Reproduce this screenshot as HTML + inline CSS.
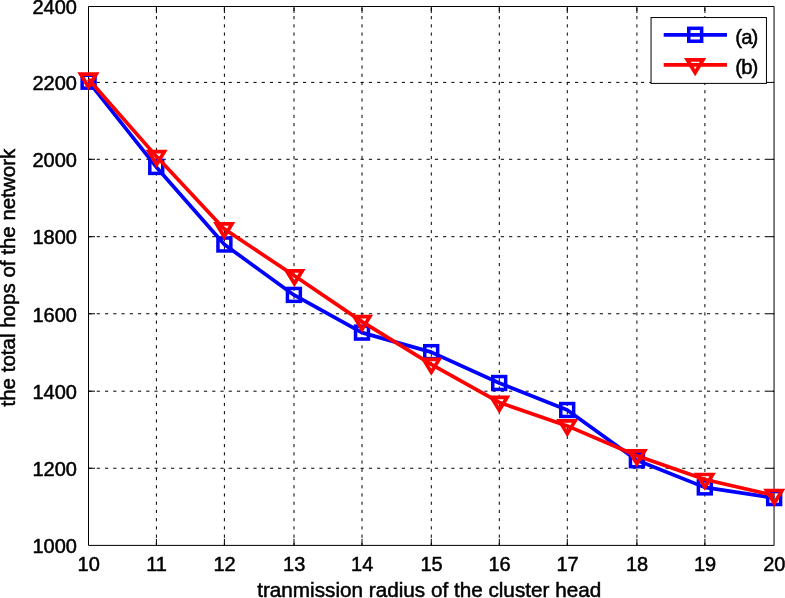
<!DOCTYPE html>
<html lang="en">
<head>
<meta charset="utf-8">
<title>the total hops of the network</title>
<style>
html,body{margin:0;padding:0;background:#fff;overflow:hidden}
svg{display:block}
text{fill:#000}
</style>
</head>
<body>
<svg width="785" height="598" viewBox="0 0 785 598">
<rect width="785" height="598" fill="#fff"/>
<g stroke="#000" stroke-width="1" fill="none" stroke-dasharray="3.2 5.03">
<path d="M156.4 7.82V545.4"/>
<path d="M224.4 7.82V545.4"/>
<path d="M294 7.82V545.4"/>
<path d="M362 7.82V545.4"/>
<path d="M431.3 7.82V545.4"/>
<path d="M499.3 7.82V545.4"/>
<path d="M567.3 7.82V545.4"/>
<path d="M636.9 7.82V545.4"/>
<path d="M704.9 7.82V545.4"/>
</g>
<g stroke="#000" stroke-width="1" fill="none" stroke-dasharray="3.2 5.046">
<path d="M88.5 82.4H774.05"/>
<path d="M88.5 159.3H774.05"/>
<path d="M88.5 236.7H774.05"/>
<path d="M88.5 313.75H774.05"/>
<path d="M88.5 391.2H774.05"/>
<path d="M88.5 468.25H774.05"/>
</g>
<g stroke="#000" stroke-width="1" fill="none">
<path d="M88.5 6.5H774.05V545.4H88.5Z"/>
<path d="M156.4 545.4v-6.5M156.4 6.5v6.5M224.4 545.4v-6.5M224.4 6.5v6.5M294 545.4v-6.5M294 6.5v6.5M362 545.4v-6.5M362 6.5v6.5M431.3 545.4v-6.5M431.3 6.5v6.5M499.3 545.4v-6.5M499.3 6.5v6.5M567.3 545.4v-6.5M567.3 6.5v6.5M636.9 545.4v-6.5M636.9 6.5v6.5M704.9 545.4v-6.5M704.9 6.5v6.5M88.5 82.4h6.5M774.05 82.4h-6.5M88.5 159.3h6.5M774.05 159.3h-6.5M88.5 236.7h6.5M774.05 236.7h-6.5M88.5 313.75h6.5M774.05 313.75h-6.5M88.5 391.2h6.5M774.05 391.2h-6.5M88.5 468.25h6.5M774.05 468.25h-6.5"/>
</g>
<g stroke="#0000ff" fill="none" stroke-linejoin="miter">
<polyline stroke-width="3.7" stroke-linejoin="round" points="88.6,81.7 156.25,166.95 224.4,244.5 293.9,294.9 362,332.6 431.2,352.15 499.2,383 567.2,410 636.9,460.25 704.8,487.4 774.15,498.05"/>
<g stroke-width="3.5"><rect x="82.15" y="75.25" width="12.9" height="12.9"/><rect x="149.8" y="160.5" width="12.9" height="12.9"/><rect x="217.95" y="238.05" width="12.9" height="12.9"/><rect x="287.45" y="288.45" width="12.9" height="12.9"/><rect x="355.55" y="326.15" width="12.9" height="12.9"/><rect x="424.75" y="345.7" width="12.9" height="12.9"/><rect x="492.75" y="376.55" width="12.9" height="12.9"/><rect x="560.75" y="403.55" width="12.9" height="12.9"/><rect x="630.45" y="453.8" width="12.9" height="12.9"/><rect x="698.35" y="480.95" width="12.9" height="12.9"/><rect x="767.7" y="491.6" width="12.9" height="12.9"/></g>
</g>
<g stroke="#ff0000" fill="none" stroke-linejoin="miter">
<polyline stroke-width="3.7" stroke-linejoin="round" points="88.4,79.05 156.6,156.6 224.2,228.9 294.4,275.8 362,321.6 431.3,364.4 499.3,402.45 567.3,425.9 636.9,455.8 704.9,479.5 774.3,495.5"/>
<g stroke-width="3.7"><path d="M80.6 74.05H96.2L88.4 86.85Z"/><path d="M148.8 151.6H164.4L156.6 164.4Z"/><path d="M216.4 223.9H232L224.2 236.7Z"/><path d="M286.6 270.8H302.2L294.4 283.6Z"/><path d="M354.2 316.6H369.8L362 329.4Z"/><path d="M423.5 359.4H439.1L431.3 372.2Z"/><path d="M491.5 397.45H507.1L499.3 410.25Z"/><path d="M559.5 420.9H575.1L567.3 433.7Z"/><path d="M629.1 450.8H644.7L636.9 463.6Z"/><path d="M697.1 474.5H712.7L704.9 487.3Z"/><path d="M766.5 490.5H782.1L774.3 503.3Z"/></g>
</g>
<rect x="651.05" y="17.55" width="115.4" height="65.85" fill="#fff" stroke="#000" stroke-width="1"/>
<g fill="none" stroke="#0000ff"><path stroke-width="3.7" d="M663.7 34.9H727"/><g stroke-width="3.5"><rect x="688.75" y="28.3" width="12.9" height="12.9"/></g></g>
<g fill="none" stroke="#ff0000"><path stroke-width="3.7" d="M663.7 64.9H727"/><g stroke-width="3.7"><path d="M687.35 59.9H702.95L695.15 72.7Z"/></g></g>
<g font-family="Liberation Sans, Arimo, Helvetica, Arial, sans-serif" font-size="20.4" stroke="#000" stroke-width="0.5">
<text x="735.3" y="44.2" textLength="23" lengthAdjust="spacing">(a)</text>
<text x="735.3" y="74.2" textLength="23" lengthAdjust="spacing">(b)</text>
<text x="76.9" y="13.95" font-size="20" text-anchor="end">2400</text>
<text x="76.9" y="89.8" font-size="20" text-anchor="end">2200</text>
<text x="76.9" y="167.45" font-size="20" text-anchor="end">2000</text>
<text x="76.9" y="244.45" font-size="20" text-anchor="end">1800</text>
<text x="76.9" y="321.65" font-size="20" text-anchor="end">1600</text>
<text x="76.9" y="399" font-size="20" text-anchor="end">1400</text>
<text x="76.9" y="476.2" font-size="20" text-anchor="end">1200</text>
<text x="76.9" y="553.35" font-size="20" text-anchor="end">1000</text>
<text x="88.7" y="571" font-size="20" text-anchor="middle">10</text>
<text x="156.6" y="571" font-size="20" text-anchor="middle">11</text>
<text x="224.6" y="571" font-size="20" text-anchor="middle">12</text>
<text x="294.2" y="571" font-size="20" text-anchor="middle">13</text>
<text x="362.2" y="571" font-size="20" text-anchor="middle">14</text>
<text x="431.5" y="571" font-size="20" text-anchor="middle">15</text>
<text x="499.5" y="571" font-size="20" text-anchor="middle">16</text>
<text x="567.5" y="571" font-size="20" text-anchor="middle">17</text>
<text x="637.1" y="571" font-size="20" text-anchor="middle">18</text>
<text x="705.1" y="571" font-size="20" text-anchor="middle">19</text>
<text x="774.25" y="571" font-size="20" text-anchor="middle">20</text>
<text x="257.2" y="597.4" textLength="344" lengthAdjust="spacingAndGlyphs">tranmission radius of the cluster head</text>
<text transform="translate(15.3 406.5) rotate(-90)" textLength="257.8" lengthAdjust="spacingAndGlyphs">the total hops of the network</text>
</g>
</svg>
</body>
</html>
